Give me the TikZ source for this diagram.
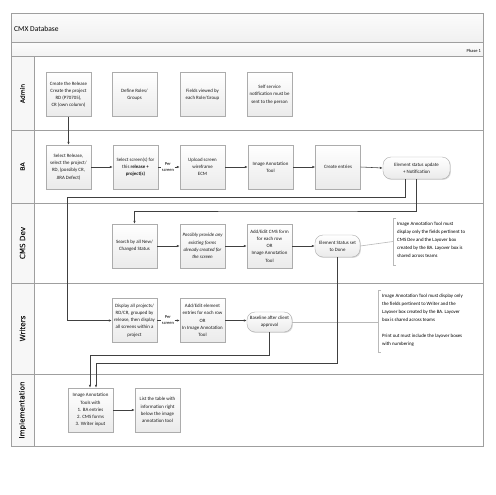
\documentclass[tikz,border=0pt]{standalone}
\usepackage{fontspec}
\setmainfont{Carlito}
\newfontfamily\lanefont[FakeBold=0.3]{DejaVu Sans}
\usetikzlibrary{arrows.meta,shadows,calc}
\begin{document}
\begin{tikzpicture}[x=1pt,y=-1pt,
  box/.style={draw=gray!65, top color=white, bottom color=gray!16, minimum width=45pt, minimum height=44pt,
    align=center, inner sep=1pt, font=\fontsize{4.9}{7.2}\selectfont, text=black!90,
    drop shadow={shadow xshift=0.9pt, shadow yshift=-0.9pt, fill=gray!60, opacity=0.5}},
  rbox/.style={box, rounded corners=8pt, minimum height=22pt},
  conn/.style={draw=black!75, line width=0.55pt, -{Latex[length=3pt,width=2.4pt]}},
  plain/.style={draw=black!75, line width=0.55pt},
  lane/.style={draw=gray!75, line width=1pt},
  notel/.style={draw=gray!55, line width=0.6pt},
  notetxt/.style={anchor=north west, align=left, inner sep=0pt, font=\fontsize{4.9}{8}\selectfont},
  lanelbl/.style={rotate=90, font=\lanefont\fontsize{#1}{#1}\selectfont, text=black!90},
  small/.style={fill=white, inner sep=0.5pt, align=center, font=\fontsize{4.5}{6}\selectfont}
]
\fill[white] (0,0) rectangle (495,495);
\useasboundingbox (0,0) rectangle (495,495);
% frame
\shade[top color=gray!3, bottom color=gray!12] (11,14) rectangle (483,43);
\shade[top color=gray!3, bottom color=gray!10] (11,43) rectangle (483,57);
\fill[gray!6] (11,57) rectangle (34,446);
\draw[lane] (11,43) -- (483,43);
\draw[lane] (11,57) -- (483,57);
\foreach \yy in {130,203,283,374} \draw[lane] (11,\yy) -- (483,\yy);
\draw[gray!75, line width=0.7pt] (34,57) -- (34,446);
\draw[gray!75, line width=1pt] (11,14) rectangle (483,446);
\node[anchor=west, inner sep=0pt, font=\fontsize{7.5}{8}\selectfont] (title) at (14,29) {CMX Database};
\node[anchor=east, inner sep=0pt, font=\fontsize{4.5}{5}\selectfont] (phase) at (481,50.5) {Phase 1};
% lane labels
\node[lanelbl=6] (lAdmin) at (22.5,93.5) {Admin};
\node[lanelbl=6] (lBA) at (22.5,166.5) {BA};
\node[lanelbl=7.2] (lCMS) at (22.5,243) {CMS Dev};
\node[lanelbl=7.2] (lWr) at (22.5,328.5) {Writers};
\node[lanelbl=7.2] (lImp) at (22.5,410) {Implementation};
% Admin
\node[box] (a1) at (68.5,94.5) {Create the Release\\Create the project\\RD (P70705),\\CR (own column)};
\node[box] (a2) at (134.5,94.5) {Define Roles/\\Groups};
\node[box] (a3) at (202.5,94.5) {Fields viewed by\\each Role/Group};
\node[box] (a4) at (269.5,94.5) {Self service\\notification must be\\sent to the person};
% BA
\node[box] (ba1) at (68.5,167) {Select Release,\\select the project/\\RD, (possibly CR,\\JIRA Defect)};
\node[box] (ba2) at (135.5,167) {Select screen(s) for\\this \textbf{release +}\\\textbf{project(s)}};
\node[box] (ba3) at (202.5,167) {Upload screen\\wireframe\\ECM};
\node[box] (ba4) at (270.5,167) {Image Annotation\\Tool};
\node[box] (ba5) at (338,167) {Create entries};
\node[rbox, minimum width=67pt] (esu) at (416.5,168) {Element status update\\+ Notification};
\node[small] (ps1) at (168,167) {Per\\screen};
% CMS Dev
\node[box] (cd1) at (134.5,246) {Search by all New/\\Changed Status};
\node[box, font=\fontsize{4.9}{7.2}\selectfont\itshape] (cd2) at (202.5,246) {Possibly provide any\\existing forms\\already created for\\the screen};
\node[box] (cd3) at (269.5,246) {Add/Edit CMS form\\for each row\\OR\\Image Annotation\\Tool};
\node[rbox] (cdone) at (337.5,246) {Element Status set\\to Done};
% Writers
\node[box] (w1) at (134.5,320.5) {Display all projects/\\RD/CR, grouped by\\release, then display\\all screens within a\\project};
\node[box] (w2) at (202.5,320.5) {Add/Edit element\\entries for each row\\OR\\In Image Annotation\\Tool};
\node[rbox, minimum height=20pt] (bl) at (269.5,322) {Baseline after client\\approval};
\node[small] (ps2) at (168,320.5) {Per\\screen};
% Implementation
\node[box] (ia) at (90.5,410) {Image Annotation\\Tools with\\1. BA entries\\2. CMS forms\\3. Writer input};
\node[box] (lt) at (157.5,410) {List the table with\\information right\\below the image\\annotation tool};
% notes
\coordinate (n1t) at (393,218);
\coordinate (n1b) at (393,265);
\draw[notel] ($(n1t)+(3,0)$) -- (n1t) -- (n1b) -- ($(n1b)+(3,0)$);
\node[notetxt] (note1) at (397,221.5) {Image Annotation Tool must\\display only the fields pertinent to\\CMS Dev and the Layover box\\created by the BA. Layover box is\\shared across teams};
\coordinate (n2t) at (378,290);
\coordinate (n2b) at (378,352);
\draw[notel] ($(n2t)+(3,0)$) -- (n2t) -- (n2b) -- ($(n2b)+(3,0)$);
\node[notetxt] (note2) at (382,293.5) {Image Annotation Tool must display only\\the fields pertinent to Writer and the\\Layover box created by the BA. Layover\\box is shared across teams\\[8pt]Print out must include the layover boxes\\with numbering};
\draw[notel] (cdone.east) -- ($(n1t)!0.5!(n1b)$);
\draw[notel] (bl.east) -- (bl.east -| n2t);
% connectors
\draw[conn] (a1.south) -- (ba1.north);
\draw[conn] (ba1) -- (ba2);
\draw[plain] (ba2.east) -- (ps1.west);
\draw[conn] (ps1.east) -- (ba3.west);
\draw[conn] (ba3) -- (ba4);
\draw[conn] (ba4) -- (ba5);
\draw[conn] (ba5.east) -- (esu.west);
\coordinate (k1) at (405,197);
\coordinate (k2) at (67,197);
\draw[conn] (k1 |- esu.south) -- (k1) -- (k2) |- (w1.west);
\coordinate (k0) at (300,211);
\draw[conn] (esu.south) |- (k0) -| (cd1.north);
\draw[conn] (cd1) -- (cd2);
\draw[conn] (cd2) -- (cd3);
\draw[conn] (cd3.east) -- (cdone.west);
\draw[plain] (w1.east) -- (ps2.west);
\draw[conn] (ps2.east) -- (w2.west);
\draw[conn] (w2.east) -- (w2.east -| bl.west);
\coordinate (k3) at (96,363);
\draw[conn] (cdone.south) |- (k3) -- (k3 |- ia.north);
\coordinate (k4) at (90,355);
\draw[conn] (bl.south) |- (k4) -- (k4 |- ia.north);
\draw[conn] (ia) -- (lt);
\end{tikzpicture}
\end{document}
